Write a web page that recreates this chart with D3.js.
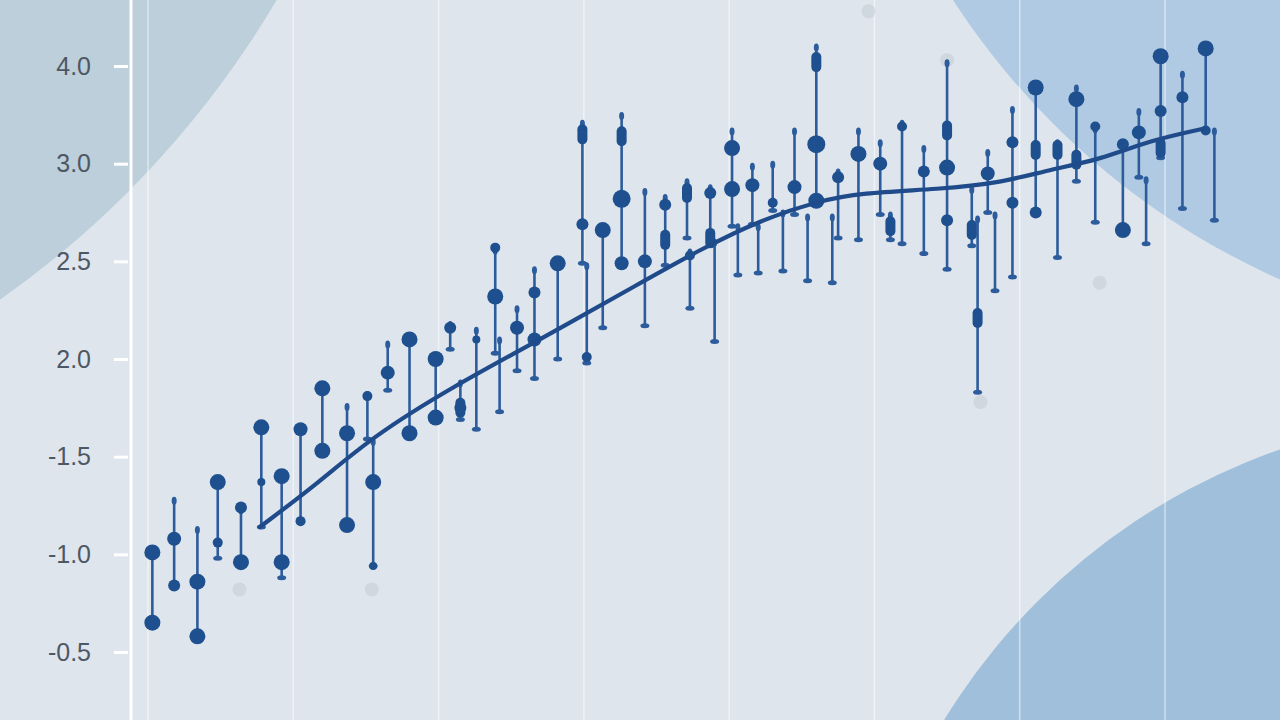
<!DOCTYPE html>
<html><head><meta charset="utf-8">
<script src="https://cdn.jsdelivr.net/npm/d3@7"></script>
<style>html,body{margin:0;padding:0;background:#dee5ed;overflow:hidden}</style>
</head><body>
<svg id="chart" width="1280" height="720"></svg>
<script>
// ---- data ----
const tickValues = [3.5, 3.0, 2.5, 2.0, 1.5, 1.0, 0.5];
const tickLabels = ["4.0", "3.0", "2.5", "2.0", "-1.5", "-1.0", "-0.5"];
const gridX = [0, 10, 20, 30, 40, 50, 60, 70];

const obsX   = [0.3,1.8,3.4,4.8,6.4,7.8,9.2,10.5,12.0,13.7,15.1,15.5,16.5,18.0,19.8,20.8,21.5,22.6,23.9,24.2,25.4,26.6,28.2,29.9,30.2,31.3,32.6,34.2,35.6,37.1,37.3,38.7,39.0,40.2,40.6,41.6,42.0,43.0,43.7,44.5,45.4,46.0,47.1,47.5,48.9,50.4,51.1,51.9,53.4,55.0,56.7,57.1,57.8,58.3,59.5,61.1,62.6,63.9,65.2,67.1,68.2,68.7,69.7,71.2,72.8,73.4];
const barHigh= [1.01,1.29,1.14,1.37,1.24,1.65,1.40,1.64,1.85,1.77,1.83,1.59,2.09,2.10,2.00,2.19,1.89,2.16,2.57,2.11,2.27,2.47,2.49,3.22,2.49,2.66,3.26,2.87,2.84,2.92,2.56,2.89,2.61,3.18,2.69,3.00,2.69,3.01,2.76,3.18,2.74,3.61,2.74,2.97,3.18,3.12,2.75,3.22,3.09,3.53,2.88,2.73,3.07,2.75,3.29,3.39,3.12,3.40,3.19,3.10,3.28,2.93,3.55,3.47,3.59,3.18];
const barLow = [0.65,0.84,0.58,0.98,0.96,1.14,0.88,1.17,1.53,1.15,1.59,0.94,1.84,1.62,1.70,2.05,1.69,1.64,2.03,1.73,1.94,1.90,2.00,2.49,1.98,2.16,2.49,2.17,2.48,2.62,2.26,2.58,2.09,2.68,2.43,2.69,2.44,2.76,2.45,2.74,2.40,2.79,2.39,2.62,2.61,2.74,2.61,2.59,2.54,2.46,2.58,1.83,2.75,2.35,2.42,2.75,2.52,2.91,2.70,2.66,2.93,2.59,3.03,2.77,3.17,2.71];
const dotA   = [1.01,1.08,0.86,1.37,0.96,1.65,1.40,1.64,1.85,1.62,1.81,1.37,1.93,2.10,2.00,2.16,1.75,2.10,2.32,null,2.16,2.34,2.49,2.69,2.01,2.66,2.82,2.50,2.79,null,2.53,2.85,null,3.08,null,2.89,null,2.80,null,2.88,null,3.10,null,2.93,3.05,3.00,null,3.19,2.96,2.98,null,null,2.95,null,3.11,3.39,null,3.33,3.19,2.66,3.16,null,3.55,3.34,3.59,null];
const sizeA  = [8,7,8,8,8,8,8,7,8,8,5,8,7,8,8,6,6,4,8,0,7,6,8,6,5,8,9,7,6,0,5,6,0,8,0,7,0,5,0,7,0,9,0,6,8,7,0,5,6,8,0,0,7,0,6,8,0,8,5,8,7,0,8,6,8,0];
const dotB   = [0.65,0.84,0.58,1.06,1.24,1.37,0.96,1.17,1.53,1.15,null,0.94,null,1.62,1.70,null,null,null,2.57,null,null,2.10,null,null,null,null,2.49,null,null,null,null,null,null,2.87,null,null,null,null,null,null,null,2.81,null,null,null,null,null,null,null,2.71,null,null,null,null,2.80,2.75,null,null,null,3.10,null,null,3.27,null,3.17,null];
const sizeB  = [8,6,8,5,6,4,8,5,8,8,0,4,0,8,8,0,0,0,5,0,0,7,0,0,0,0,7,0,0,0,0,0,0,8,0,0,0,0,0,0,0,8,0,0,0,0,0,0,0,6,0,0,0,0,6,6,0,0,0,6,0,0,6,0,5,0];
const knob   = [null,null,null,null,null,null,null,null,null,null,null,null,null,null,null,null,1.75,null,null,null,null,null,null,3.15,null,null,3.14,null,2.61,2.85,null,2.62,null,null,null,null,null,null,null,null,null,3.52,null,null,null,null,2.68,null,null,3.17,2.66,2.21,null,null,null,3.07,3.07,3.02,null,null,null,null,3.08,null,null,null];

const ghostX = [6.3, 15.4, 49.6, 65.5, 57.3, 55.0];
const ghostY = [0.82, 0.82, 3.78, 2.39, 1.78, 3.53];

const trendX = [7.7,11.8,15.4,21.0,27.0,33.9,38.0,42.1,46.2,49.0,54.5,58.6,62.1,65.5,69.0,72.7];
const trendY = [1.14,1.37,1.60,1.86,2.10,2.39,2.56,2.71,2.81,2.85,2.87,2.90,2.97,3.02,3.12,3.18];

// ---- drawing ----
const W = 1280, H = 720;
const svg = d3.select("#chart");
const x = d3.scaleLinear().domain([0, 70]).range([148, 1165]);
const y = d3.scaleLinear().domain([0.5, 3.5]).range([652, 66]);

// background + decorative corner shapes
svg.append("rect").attr("width", W).attr("height", H).attr("fill", "#dee5ed");
svg.append("circle").attr("cx", -557).attr("cy", -492).attr("r", 968).attr("fill", "#bccfda");
svg.append("circle").attr("cx", 1588).attr("cy", -412).attr("r", 757).attr("fill", "#afcae2");
svg.append("circle").attr("cx", 1490).attr("cy", 1054).attr("r", 640).attr("fill", "#a0bfdb");

// vertical grid
svg.append("g").selectAll("line").data(gridX).join("line")
  .attr("x1", d => x(d)).attr("x2", d => x(d))
  .attr("y1", 0).attr("y2", H)
  .attr("stroke", "#ffffff").attr("stroke-opacity", 0.5).attr("stroke-width", 1.5);

// y axis
const axis = d3.axisLeft(y).tickValues(tickValues)
  .tickFormat((d, i) => tickLabels[i]).tickSize(17).tickPadding(23);
const ga = svg.append("g").attr("transform", "translate(131,0)").call(axis);
ga.select(".domain").remove();
ga.selectAll(".tick line").attr("x1", -3).attr("stroke", "#ffffff").attr("stroke-width", 3);
ga.selectAll(".tick text").attr("fill", "#4d5864")
  .style("font-family", "'Liberation Sans', Arial, sans-serif").style("font-size", "25px");
svg.append("line").attr("x1", 131).attr("x2", 131).attr("y1", 0).attr("y2", H)
  .attr("stroke", "#ffffff").attr("stroke-width", 3);

// ghost points
svg.append("g").selectAll("circle").data(ghostX).join("circle")
  .attr("cx", d => x(d)).attr("cy", (d, i) => y(ghostY[i])).attr("r", 7)
  .attr("fill", "#bcc5cf").attr("opacity", 0.45);

const idx = d3.range(obsX.length);
const blue = "#1e4f8e", barBlue = "#2c5c9b";

// error bars
svg.append("g").selectAll("line").data(idx).join("line")
  .attr("x1", i => x(obsX[i])).attr("x2", i => x(obsX[i]))
  .attr("y1", i => y(barHigh[i])).attr("y2", i => y(barLow[i]))
  .attr("stroke", barBlue).attr("stroke-width", 2.6);
// bottom caps
svg.append("g").selectAll("ellipse").data(idx).join("ellipse")
  .attr("cx", i => x(obsX[i])).attr("cy", i => y(barLow[i]))
  .attr("rx", 4.5).attr("ry", 2.5).attr("fill", barBlue);
// top nubs
svg.append("g").selectAll("ellipse").data(idx).join("ellipse")
  .attr("cx", i => x(obsX[i])).attr("cy", i => y(barHigh[i]) + 3)
  .attr("rx", 2.5).attr("ry", 4).attr("fill", barBlue);
// knobs
svg.append("g").selectAll("rect").data(idx.filter(i => knob[i] != null)).join("rect")
  .attr("x", i => x(obsX[i]) - 5).attr("y", i => y(knob[i]) - 10)
  .attr("width", 10).attr("height", 20).attr("rx", 5)
  .attr("fill", blue);
// secondary dots
svg.append("g").selectAll("circle").data(idx.filter(i => dotB[i] != null)).join("circle")
  .attr("cx", i => x(obsX[i])).attr("cy", i => y(dotB[i])).attr("r", i => sizeB[i])
  .attr("fill", blue);

// trend line
svg.append("path")
  .datum(d3.range(trendX.length))
  .attr("d", d3.line().x(i => x(trendX[i])).y(i => y(trendY[i])).curve(d3.curveBasis))
  .attr("fill", "none").attr("stroke", "#1f4b8b").attr("stroke-width", 4.2)
  .attr("stroke-linecap", "round");

// primary dots
svg.append("g").selectAll("circle").data(idx.filter(i => dotA[i] != null)).join("circle")
  .attr("cx", i => x(obsX[i])).attr("cy", i => y(dotA[i])).attr("r", i => sizeA[i])
  .attr("fill", blue);
</script>
</body></html>
